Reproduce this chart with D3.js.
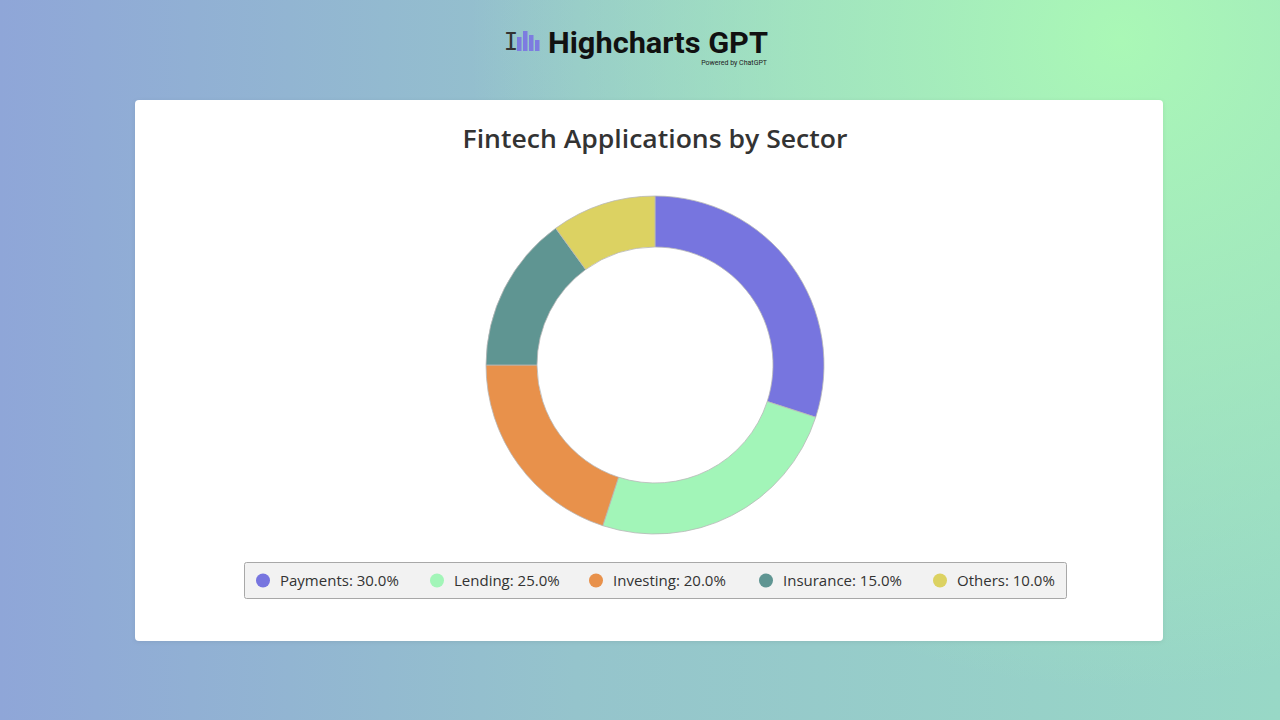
<!DOCTYPE html>
<html><head><meta charset="utf-8">
<script src="https://cdn.jsdelivr.net/npm/d3@7"></script>
<style>html,body{margin:0;padding:0;overflow:hidden;}svg{display:block;}</style>
</head><body>
<svg id="c" width="1280" height="720"></svg>
<script>
const categories = ["Payments", "Lending", "Investing", "Insurance", "Others"];
const values = [30, 25, 20, 15, 10];
const colors = ["#7775df", "#a2f5b8", "#e8914b", "#5f9592", "#dcd262"];
const titleText = "Fintech Applications by Sector";

const svg = d3.select("#c");
const defs = svg.append("defs");
const lg = defs.append("linearGradient").attr("id","bg").attr("x1","0").attr("y1","0.5").attr("x2","1").attr("y2","0.5");
lg.append("stop").attr("offset","0").attr("stop-color","#8fa6d8");
lg.append("stop").attr("offset","0.45").attr("stop-color","#95c4cc");
lg.append("stop").attr("offset","1").attr("stop-color","#98d8c6");
const rg = defs.append("radialGradient").attr("id","glow").attr("gradientUnits","userSpaceOnUse")
  .attr("cx",1120).attr("cy",40).attr("r",650);
rg.append("stop").attr("offset","0").attr("stop-color","#aaf8b6").attr("stop-opacity",1);
rg.append("stop").attr("offset","0.5").attr("stop-color","#a6eebb").attr("stop-opacity",0.7);
rg.append("stop").attr("offset","1").attr("stop-color","#a6eebb").attr("stop-opacity",0);
const sh = defs.append("filter").attr("id","sh").attr("x","-5%").attr("y","-5%").attr("width","110%").attr("height","110%");
sh.append("feDropShadow").attr("dx",0).attr("dy",1).attr("stdDeviation",2).attr("flood-color","#000").attr("flood-opacity",0.08);

svg.append("rect").attr("width",1280).attr("height",720).attr("fill","url(#bg)");
svg.append("rect").attr("width",1280).attr("height",720).attr("fill","url(#glow)");

// Header
const hdr = svg.append("g");
hdr.append("text").attr("x",511).attr("y",50).attr("font-family","DejaVu Sans Mono, monospace").attr("font-size",24).attr("fill","#333").attr("text-anchor","middle").text("I");
const barsH = [14, 20, 16, 11];
barsH.forEach((h,i)=>{
  hdr.append("rect").attr("x",517+i*6).attr("y",51-h).attr("width",4.5).attr("height",h).attr("fill","#7d7ce0");
});
hdr.append("text").attr("x",548).attr("y",53).attr("textLength",220).attr("lengthAdjust","spacingAndGlyphs")
  .attr("font-family","Roboto, 'Open Sans', sans-serif").attr("font-weight",700).attr("font-size",30).attr("fill","#111").text("Highcharts GPT");
hdr.append("text").attr("x",767).attr("y",65).attr("text-anchor","end").attr("font-family","Roboto, sans-serif").attr("font-size",7).attr("fill","#222").text("Powered by ChatGPT");

// Card
svg.append("rect").attr("x",135).attr("y",100).attr("width",1028).attr("height",541).attr("rx",4).attr("fill","#fff").attr("filter","url(#sh)");

svg.append("text").attr("x",655).attr("y",148).attr("text-anchor","middle").attr("textLength",385).attr("lengthAdjust","spacingAndGlyphs")
  .attr("font-family","'Open Sans', sans-serif").attr("font-weight",600).attr("font-size",26).attr("fill","#333").text(titleText);

// Donut
const data = categories.map((c,i)=>({name:c, value:values[i], color:colors[i]}));
const pie = d3.pie().value(d=>d.value).sort(null);
const arc = d3.arc().innerRadius(118).outerRadius(169);
const g = svg.append("g").attr("transform","translate(655,365)");
g.selectAll("path").data(pie(data)).join("path")
  .attr("d",arc).attr("fill",d=>d.data.color).attr("stroke","#b8b8b8").attr("stroke-width",0.8).attr("stroke-linejoin","round");

// Legend
const total = d3.sum(values);
svg.append("rect").attr("x",244.5).attr("y",562.5).attr("width",822).attr("height",36).attr("rx",2)
  .attr("fill","#f2f2f2").attr("stroke","#a8a8a8").attr("stroke-width",1);
const legendX = [263, 437, 596, 766, 940];
const lgG = svg.append("g");
data.forEach((d,i)=>{
  lgG.append("circle").attr("cx",legendX[i]).attr("cy",580.5).attr("r",7).attr("fill",d.color);
  lgG.append("text").attr("x",legendX[i]+17).attr("y",586).attr("font-family","'Open Sans', sans-serif")
    .attr("font-size",15).attr("fill","#333").text(`${d.name}: ${(d.value/total*100).toFixed(1)}%`);
});
</script>
</body></html>
